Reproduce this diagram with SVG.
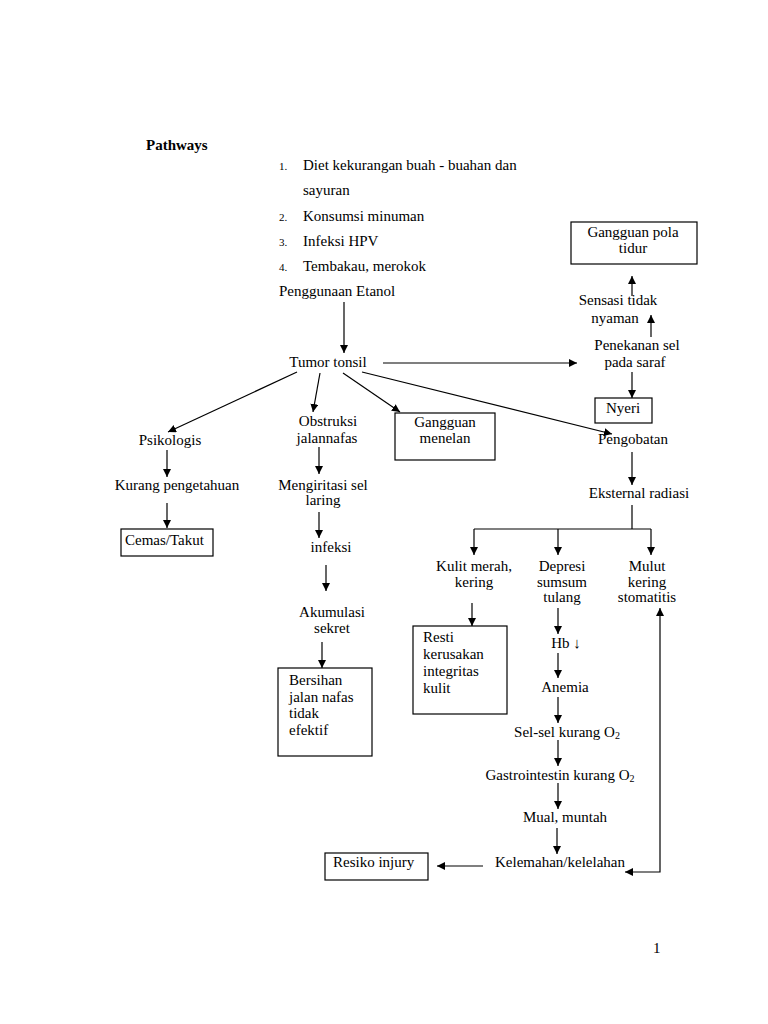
<svg xmlns="http://www.w3.org/2000/svg" width="768" height="1024" viewBox="0 0 768 1024">
<style>
text{font-family:"Liberation Serif","Times New Roman",serif;font-size:15px;fill:#000}
.c{text-anchor:middle}
.n{font-size:11px}
.b{font-weight:bold;font-size:15px}
rect{fill:#fff;stroke:#000;stroke-width:1.2}
.e path,.e line{fill:none;stroke:#000;stroke-width:1.2}
</style>
<defs>
<marker id="a" viewBox="0 0 10 10" refX="10" refY="5" markerWidth="8" markerHeight="8" markerUnits="userSpaceOnUse" orient="auto-start-reverse">
<path d="M0,0 L10,5 L0,10 z" fill="#000"/>
</marker>
</defs>
<rect x="0" y="0" width="768" height="1024" style="stroke:none"/>
<g id="title"><text x="146" y="150" class="b">Pathways</text></g>
<g id="causes">
<text x="279" y="170" class="n">1.</text><text x="303" y="170">Diet kekurangan buah - buahan dan</text>
<text x="303" y="195">sayuran</text>
<text x="279" y="221" class="n">2.</text><text x="303" y="221">Konsumsi minuman</text>
<text x="279" y="246" class="n">3.</text><text x="303" y="246">Infeksi HPV</text>
<text x="279" y="271" class="n">4.</text><text x="303" y="271">Tembakau, merokok</text>
<text x="279" y="296">Penggunaan Etanol</text>
</g>
<g id="tumor"><text x="328" y="367" class="c">Tumor tonsil</text></g>
<g id="pola"><rect x="571" y="222" width="126" height="42"/><text x="633" y="237" class="c">Gangguan pola</text><text x="633" y="253" class="c">tidur</text></g>
<g id="sensasi"><text x="618" y="305" class="c">Sensasi tidak</text><text x="615" y="323" class="c">nyaman</text></g>
<g id="penekanan"><text x="637" y="350" class="c">Penekanan sel</text><text x="635" y="367" class="c">pada saraf</text></g>
<g id="nyeri"><rect x="595" y="398" width="57" height="25"/><text x="606" y="413">Nyeri</text></g>
<g id="menelan"><rect x="395" y="413" width="100" height="47"/><text x="445" y="427" class="c">Gangguan</text><text x="445" y="443" class="c">menelan</text></g>
<g id="pengobatan"><text x="633" y="444" class="c">Pengobatan</text></g>
<g id="psikologis"><text x="170" y="445" class="c">Psikologis</text></g>
<g id="kurang"><text x="177" y="490" class="c">Kurang pengetahuan</text></g>
<g id="cemas"><rect x="121" y="529" width="92" height="27"/><text x="125" y="545">Cemas/Takut</text></g>
<g id="obstruksi"><text x="328" y="426" class="c">Obstruksi</text><text x="327" y="443" class="c">jalannafas</text></g>
<g id="mengiritasi"><text x="323" y="490" class="c">Mengiritasi sel</text><text x="323" y="505" class="c">laring</text></g>
<g id="infeksi"><text x="331" y="552" class="c">infeksi</text></g>
<g id="akumulasi"><text x="332" y="617" class="c">Akumulasi</text><text x="332" y="633" class="c">sekret</text></g>
<g id="bersihan"><rect x="278" y="668" width="94" height="88"/><text x="289" y="685">Bersihan</text><text x="289" y="702">jalan nafas</text><text x="289" y="718">tidak</text><text x="289" y="735">efektif</text></g>
<g id="eksternal"><text x="639" y="498" class="c">Eksternal radiasi</text></g>
<g id="kulit"><text x="474" y="571" class="c">Kulit merah,</text><text x="474" y="587" class="c">kering</text></g>
<g id="depresi"><text x="562" y="571" class="c">Depresi</text><text x="562" y="587" class="c">sumsum</text><text x="562" y="602" class="c">tulang</text></g>
<g id="mulut"><text x="647" y="571" class="c">Mulut</text><text x="647" y="587" class="c">kering</text><text x="647" y="602" class="c">stomatitis</text></g>
<g id="resti"><rect x="413" y="626" width="94" height="88"/><text x="423" y="642">Resti</text><text x="423" y="659">kerusakan</text><text x="423" y="676">integritas</text><text x="423" y="693">kulit</text></g>
<g id="hb"><text x="566" y="648" class="c">Hb ↓</text></g>
<g id="anemia"><text x="565" y="692" class="c">Anemia</text></g>
<g id="sel"><text x="567" y="737" class="c">Sel-sel kurang O<tspan font-size="10" dy="2">2</tspan></text></g>
<g id="gastro"><text x="560" y="780" class="c">Gastrointestin kurang O<tspan font-size="10" dy="2">2</tspan></text></g>
<g id="mual"><text x="565" y="822" class="c">Mual, muntah</text></g>
<g id="kelemahan"><text x="560" y="867" class="c">Kelemahan/kelelahan</text></g>
<g id="resiko"><rect x="325" y="853" width="103" height="27"/><text x="333" y="867">Resiko injury</text></g>
<g id="page"><text x="653" y="953">1</text></g>
<g id="connectors" class="e">
<line x1="344" y1="302" x2="344" y2="353" marker-end="url(#a)"/>
<line x1="383" y1="363" x2="577" y2="363" marker-end="url(#a)"/>
<line x1="632" y1="296" x2="632" y2="276" marker-end="url(#a)"/>
<line x1="651" y1="337" x2="651" y2="315" marker-end="url(#a)"/>
<line x1="632" y1="372" x2="632" y2="398" marker-end="url(#a)"/>
<line x1="362" y1="372" x2="612" y2="434" marker-end="url(#a)"/>
<line x1="343" y1="373" x2="400" y2="412" marker-end="url(#a)"/>
<line x1="320" y1="373" x2="313" y2="412" marker-end="url(#a)"/>
<line x1="297" y1="372" x2="168" y2="432" marker-end="url(#a)"/>
<line x1="167" y1="450" x2="167" y2="477" marker-end="url(#a)"/>
<line x1="167" y1="503" x2="167" y2="528" marker-end="url(#a)"/>
<line x1="319" y1="447" x2="319" y2="474" marker-end="url(#a)"/>
<line x1="319" y1="512" x2="319" y2="538" marker-end="url(#a)"/>
<line x1="326" y1="565" x2="326" y2="591" marker-end="url(#a)"/>
<line x1="322" y1="642" x2="322" y2="668" marker-end="url(#a)"/>
<line x1="632" y1="452" x2="632" y2="485" marker-end="url(#a)"/>
<path d="M632,505 V529 M474,529 H651"/>
<line x1="474" y1="529" x2="474" y2="555" marker-end="url(#a)"/>
<line x1="558" y1="529" x2="558" y2="555" marker-end="url(#a)"/>
<line x1="651" y1="529" x2="651" y2="555" marker-end="url(#a)"/>
<line x1="472" y1="603" x2="472" y2="626" marker-end="url(#a)"/>
<line x1="558" y1="608" x2="558" y2="634" marker-end="url(#a)"/>
<line x1="558" y1="653" x2="558" y2="678" marker-end="url(#a)"/>
<line x1="558" y1="697" x2="558" y2="723" marker-end="url(#a)"/>
<line x1="558" y1="740" x2="558" y2="766" marker-end="url(#a)"/>
<line x1="558" y1="783" x2="558" y2="809" marker-end="url(#a)"/>
<line x1="557" y1="828" x2="557" y2="854" marker-end="url(#a)"/>
<line x1="483" y1="866" x2="437" y2="866" marker-end="url(#a)"/>
<path d="M625,872 H660 V608" marker-start="url(#a)" marker-end="url(#a)"/>
</g>
</svg>
